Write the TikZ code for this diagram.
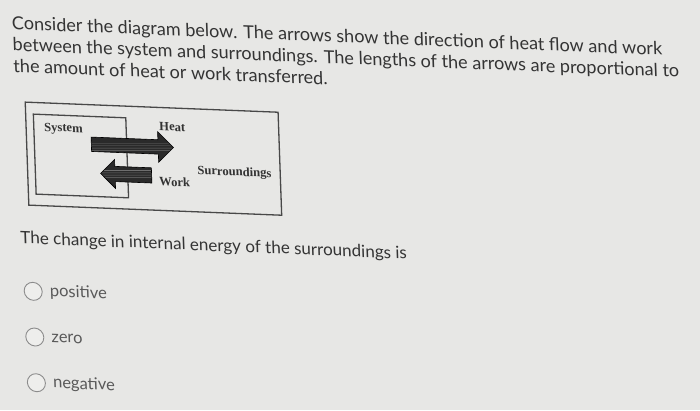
\documentclass[tikz,border=0pt]{standalone}
\usepackage{fontspec}
\setmainfont{Lato}
\newfontfamily\labelfont{Liberation Serif}
\usetikzlibrary{positioning, shapes.arrows, calc}

\definecolor{pagebg}{RGB}{231,231,229}
\definecolor{inktext}{RGB}{52,52,52}
\definecolor{boxline}{RGB}{72,72,72}
\definecolor{arrowfill}{RGB}{42,42,42}
\definecolor{stripe}{RGB}{110,110,110}
\definecolor{radioline}{RGB}{140,140,140}
\definecolor{radiofill}{RGB}{238,238,236}

\begin{document}
\begin{tikzpicture}[
    x=1pt, y=-1pt,
    % Styles
    prose/.style={
        anchor=base west,
        inner sep=0,
        text=inktext,
        font=\fontsize{18}{21}\selectfont
    },
    boxframe/.style={
        rectangle,
        draw=boxline,
        line width=1.3pt,
        anchor=north west,
        inner sep=0
    },
    tag/.style={ % labels inside the diagram
        anchor=base west,
        inner sep=0,
        text=black!80,
        font=\labelfont\bfseries\fontsize{12.6}{14}\selectfont
    },
    flowarrow/.style={
        single arrow,
        draw=black,
        fill=arrowfill,
        line width=0.6pt,
        inner xsep=0,
        anchor=tail,
        path picture={
            \foreach \f in {0.38,0.46,0.54,0.62} {
                \draw[stripe, line width=0.4pt]
                    ($(path picture bounding box.south west)!\f!(path picture bounding box.north west)$) --
                    ($(path picture bounding box.south east)!\f!(path picture bounding box.north east)$);
            }
        }
    },
    radio/.style={
        circle,
        draw=radioline,
        fill=radiofill,
        line width=0.9pt,
        minimum size=18pt,
        inner sep=0
    },
    choice/.style={
        prose,
        text=black!65,
        font=\fontsize{16.5}{20}\selectfont
    }
]

    % Page
    \fill[pagebg] (0,0) rectangle (700,410);
    \useasboundingbox (0,0) rectangle (700,410);

    \begin{scope}[xslant=-0.035, yslant=-0.04, transform shape]

    % Question text
    \node[prose] (line1) at (11,28.8) {Consider the diagram below. The arrows show the direction of heat flow and work};
    \node[prose] (line2) at (11,50.3) {between the system and surroundings. The lengths of the arrows are proportional to};
    \node[prose] (line3) at (11,71.8) {the amount of heat or work transferred.};

    % Diagram
    \node[boxframe, minimum width=252.5pt, minimum height=103pt] (surr) at (21,100.6) {};
    \node[boxframe, minimum width=92.3pt, minimum height=80pt] (sys) at (28.7,112.3) {};

    \node[tag] (systag) at (39.5,129.5) {System};
    \node[tag] (heattag) at (154.7,124.2) {Heat};
    \node[tag] (worktag) at (152.7,179.8) {Work};
    \node[tag] (surrtag) at (191.2,166.6) {Surroundings};

    \node[flowarrow, minimum height=82pt, inner ysep=6.9pt,
        single arrow head extend=8.1pt] (heat) at (86,140.8) {};
    \node[flowarrow, minimum height=51pt, inner ysep=7.3pt,
        single arrow head extend=6.85pt, shape border rotate=180] (work) at (145.8,169.6) {};

    % Choices
    \node[prose, font=\fontsize{17}{20}\selectfont] (question) at (12,243) {The change in internal energy of the surroundings is};
    \foreach \opt/\word [count=\k] in {pos/positive, zer/zero, neg/negative} {
        \node[radio] (\opt) at (23,{290.4+45.7*(\k-1)}) {};
        \node[choice] (\opt-text) at (39.5,{295+45.7*(\k-1)}) {\word};
    }

    \end{scope}
\end{tikzpicture}
\end{document}
